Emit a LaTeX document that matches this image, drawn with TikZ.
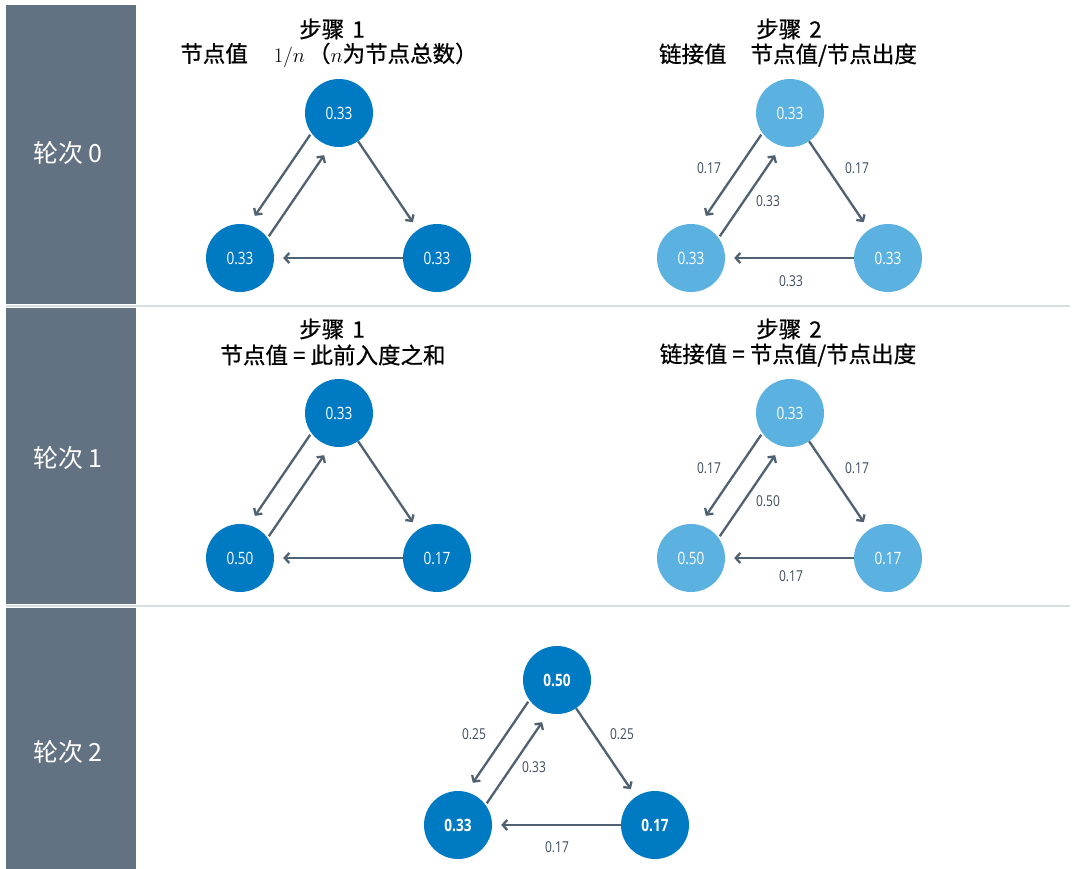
\documentclass[tikz,border=0pt]{standalone}
\usepackage{fontspec}
\newfontfamily\cjk{Noto Sans CJK SC}
\newfontfamily\cjkb[FakeBold=0.7]{Noto Sans CJK SC}
\newfontfamily\numfont[FakeStretch=0.8]{Open Sans}
\usetikzlibrary{calc,arrows.meta}
\definecolor{nodedark}{RGB}{0,122,194}
\definecolor{nodelight}{RGB}{91,178,224}
\definecolor{arrowc}{RGB}{80,97,114}
\definecolor{labelc}{RGB}{60,75,95}
\definecolor{colc}{RGB}{99,114,130}
\definecolor{sepc}{RGB}{215,221,228}
\tikzset{
  mynode/.style={circle, minimum size=68pt, inner sep=0pt, text=white, font=\numfont\fontsize{17pt}{19pt}\selectfont},
  dk/.style={mynode, fill=nodedark},
  lt/.style={mynode, fill=nodelight},
  dkb/.style={dk, font=\numfont\bfseries\fontsize{17pt}{19pt}\selectfont},
  arr/.style={draw=arrowc, line width=2.3pt, -{Straight Barb[length=4.5pt,width=10pt]}, shorten >=9pt},
  elab/.style={text=labelc, inner sep=0pt, font=\numfont\fontsize{15pt}{17pt}\selectfont},
  ttl/.style={inner sep=0pt, text=black, font=\cjkb\fontsize{22.5pt}{26pt}\selectfont},
  collab/.style={inner sep=0pt, text=white, font=\cjk\fontsize{25pt}{28pt}\selectfont},
  colbox/.style={fill=colc, draw=none},
}
\newcommand\mytri[7]{%
  \node[#4] (#1t) at (#2,#3) {#5};
  \node[#4] (#1l) at ($(#2,#3)+(-99,145)$) {#6};
  \node[#4] (#1r) at ($(#2,#3)+(98,145)$) {#7};
  \draw[arr, transform canvas={shift={(-9.5,-6.5)}}] (#1t) -- (#1l);
  \draw[arr, transform canvas={shift={(9.5,6.5)}}] (#1l) -- (#1t);
  \draw[arr] (#1t) -- (#1r);
  \draw[arr] (#1r) -- (#1l);
}
\begin{document}
\begin{tikzpicture}[x=1pt,y=-1pt]
\useasboundingbox (0,0) rectangle (1073,869);
\fill[white] (0,0) rectangle (1073,869);
% left column
\path[colbox] (6,5) rectangle (136,304);
\path[colbox] (6,308) rectangle (136,604);
\path[colbox] (6,608) rectangle (136,869);
\draw[sepc, line width=2pt] (6,306) -- (1070,306);
\draw[sepc, line width=2pt] (6,606) -- (1070,606);
\node[collab] (c0) at (68,153) {轮次 0};
\node[collab] (c1) at (68,458) {轮次 1};
\node[collab] (c2) at (68,752) {轮次 2};
% row 0 titles
\node[ttl] (t0a) at (332,29) {步骤\hspace{3pt} 1};
\node[ttl] (t0b) at (329,55) {节点值\hspace{26pt}$1/n$\hspace{3pt}（$n$为节点总数）};
\node[ttl] (t0c) at (789,29) {步骤\hspace{3pt} 2};
\node[ttl] (t0d) at (788,55) {链接值\hspace{24pt}节点值/节点出度};
% row 1 titles
\node[ttl] (t1a) at (332,329) {步骤\hspace{3pt} 1};
\node[ttl] (t1b) at (333,355) {节点值 = 此前入度之和};
\node[ttl] (t1c) at (789,329) {步骤\hspace{3pt} 2};
\node[ttl] (t1d) at (788,355) {链接值 = 节点值/节点出度};
% triangles
\mytri{a}{339}{113}{dk}{0.33}{0.33}{0.33}
\mytri{b}{790}{113}{lt}{0.33}{0.33}{0.33}
\mytri{c}{339}{413}{dk}{0.33}{0.50}{0.17}
\mytri{d}{790}{413}{lt}{0.33}{0.50}{0.17}
\mytri{e}{557}{680}{dkb}{0.50}{0.33}{0.17}
% edge labels
\node[elab] (bl1) at (709,168) {0.17};
\node[elab] (bl2) at (768,201) {0.33};
\node[elab] (bl3) at (857,168) {0.17};
\node[elab] (bl4) at (791,281) {0.33};
\node[elab] (dl1) at (709,468) {0.17};
\node[elab] (dl2) at (768,501) {0.50};
\node[elab] (dl3) at (857,468) {0.17};
\node[elab] (dl4) at (791,576) {0.17};
\node[elab] (el1) at (474,734) {0.25};
\node[elab] (el2) at (534,767) {0.33};
\node[elab] (el3) at (622,734) {0.25};
\node[elab] (el4) at (557,847) {0.17};
\end{tikzpicture}
\end{document}
